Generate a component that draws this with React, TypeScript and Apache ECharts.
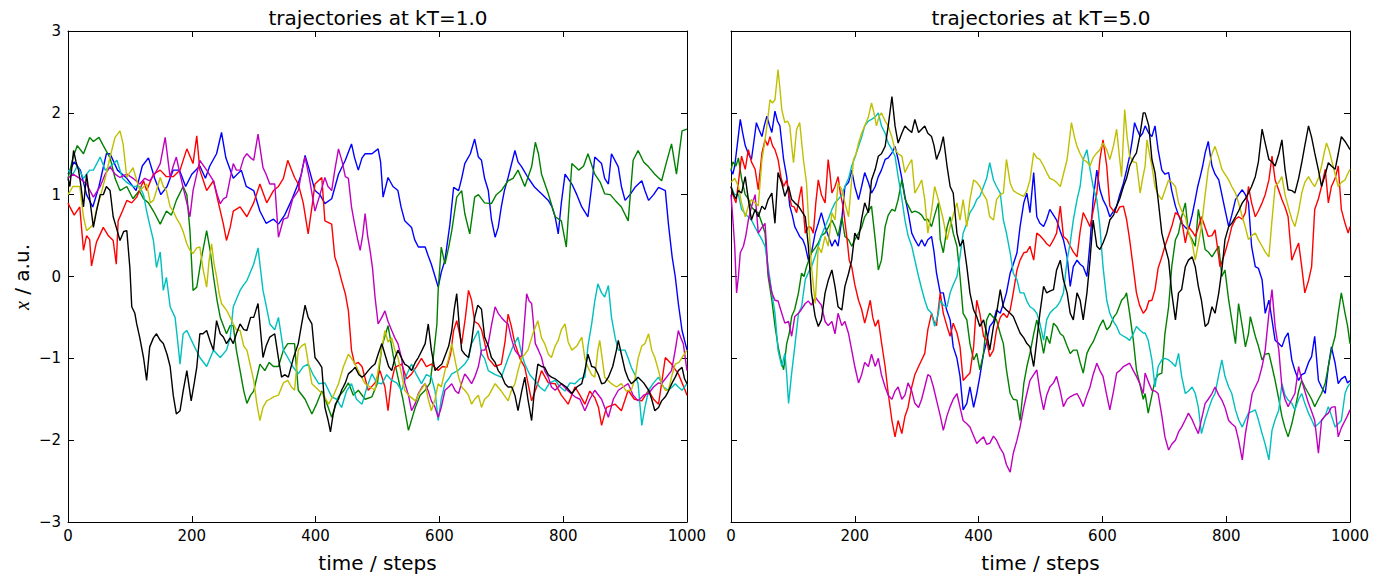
import React, { useEffect, useRef } from "react";
import * as echarts from "echarts";

// Each trajectory: [time step, x] pairs.
const xTicks = [0, 200, 400, 600, 800, 1000];
const yTicks = [-3, -2, -1, 0, 1, 2, 3];
const titles = ["trajectories at kT=1.0", "trajectories at kT=5.0"];
const colors = ["#0000ff", "#008000", "#ff0000", "#00bfbf", "#bf00bf", "#bfbf00", "#000000"];

// ---------- kT = 1.0 ----------
const blueLow = [[0,1.25],[10,1.4],[20,1.3],[30,1.0],[40,0.85],[50,1.1],[62,1.5],[68,1.5],[80,1.3],[95,1.2],[110,1.05],[120,1.35],[130,1.45],[140,1.2],[150,1.0],[160,1.1],[170,1.3],[180,1.3],[190,1.1],[200,1.25],[213,1.35],[222,1.2],[229,1.35],[240,1.5],[248,1.76],[255,1.45],[267,1.2],[280,1.3],[288,1.1],[300,1.05],[310,0.8],[320,0.65],[332,0.7],[340,0.64],[350,0.75],[361,0.93],[370,1.1],[377,1.25],[383,1.48],[390,1.3],[399,1.05],[407,1.0],[415,0.89],[426,0.95],[437,1.25],[448,1.42],[458,1.62],[463,1.45],[469,1.3],[475,1.45],[480,1.5],[491,1.5],[501,1.56],[505,1.4],[509,0.97],[517,1.21],[525,1.1],[533,1.05],[538,0.85],[544,0.68],[555,0.6],[560,0.45],[566,0.36],[577,0.36],[582,0.25],[587,0.15],[593,0.0],[598,-0.13],[603,0.05],[609,0.2],[617,0.64],[623,1.09],[631,1.05],[636,1.2],[641,1.38],[650,1.5],[657,1.68],[663,1.46],[668,1.42],[673,1.2],[679,1.05],[684,0.7],[690,0.48],[695,0.6],[700,0.85],[705,1.05],[711,1.21],[722,1.54],[727,1.4],[733,1.34],[743,1.21],[754,1.09],[765,1.01],[776,0.93],[782,0.85],[787,0.73],[792,0.52],[797,0.9],[803,1.25],[814,1.13],[822,1.0],[830,0.85],[840,0.73],[846,1.1],[851,1.46],[862,1.38],[867,1.2],[873,1.13],[878,1.5],[889,1.34],[894,1.1],[900,0.93],[908,1.0],[916,1.09],[927,1.17],[932,1.05],[938,0.93],[946,1.0],[954,1.09],[965,1.05],[970,0.64],[976,0.24],[981,0.0],[986,-0.33],[992,-0.66],[1000,-0.9]];
const greenLow = [[0,1.2],[8,1.45],[15,1.6],[25,1.5],[35,1.7],[41,1.65],[50,1.7],[57,1.6],[68,1.45],[76,1.2],[84,1.05],[95,1.1],[105,0.95],[115,1.05],[122,0.95],[130,0.9],[138,0.8],[149,0.64],[159,0.8],[167,0.75],[175,0.93],[186,1.1],[192,1.0],[197,0.56],[202,-0.17],[208,-0.13],[215,0.2],[224,0.56],[230,0.3],[235,0.0],[241,-0.3],[246,-0.5],[256,-0.7],[262,-0.6],[267,-0.6],[272,-0.9],[278,-1.15],[284,-1.4],[289,-1.55],[295,-1.45],[300,-1.4],[310,-1.07],[318,-1.15],[325,-1.05],[332,-1.1],[340,-1.1],[348,-0.9],[355,-0.82],[366,-0.82],[372,-1.39],[383,-1.5],[394,-1.68],[402,-1.55],[410,-1.4],[418,-1.55],[426,-1.72],[437,-1.47],[445,-1.4],[453,-1.3],[461,-1.45],[469,-1.39],[480,-1.5],[491,-1.47],[500,-1.3],[507,-0.86],[517,-0.6],[525,-0.95],[533,-1.23],[541,-1.5],[550,-1.88],[561,-1.6],[569,-1.45],[577,-1.39],[585,-1.3],[590,-1.0],[596,-0.58],[598,-0.17],[603,0.36],[609,0.15],[615,0.36],[620,0.56],[628,0.97],[636,1.05],[641,0.77],[649,0.52],[657,0.97],[663,1.0],[673,0.9],[684,0.89],[692,1.0],[700,1.05],[711,1.17],[719,1.2],[727,1.3],[738,1.1],[749,1.34],[755,1.64],[760,1.5],[765,1.25],[776,1.01],[787,0.73],[797,0.68],[805,0.36],[814,1.38],[825,1.3],[833,1.35],[840,1.5],[851,1.25],[860,1.15],[867,1.01],[876,1.0],[884,0.93],[894,0.85],[905,0.68],[913,1.42],[921,1.54],[930,1.4],[938,1.34],[948,1.25],[959,1.17],[967,1.4],[975,1.62],[983,1.25],[992,1.78],[1000,1.8]];
const redLow = [[0,0.9],[3,0.85],[10,0.75],[19,0.85],[25,0.32],[30,0.5],[35,0.45],[38,0.13],[46,0.42],[57,0.6],[65,0.5],[73,0.44],[78,0.15],[81,0.68],[88,0.8],[95,0.93],[103,0.9],[111,0.97],[122,1.17],[127,1.05],[138,1.25],[149,1.3],[159,1.22],[170,1.22],[181,1.3],[192,1.56],[202,1.38],[208,1.72],[213,1.3],[224,1.05],[235,1.17],[243,0.9],[251,0.64],[256,0.44],[262,0.6],[267,0.8],[278,0.85],[289,0.73],[300,0.9],[310,1.13],[321,0.9],[332,1.05],[340,1.1],[348,1.2],[355,1.42],[366,1.21],[372,1.13],[380,0.9],[388,0.52],[395,0.9],[399,1.13],[410,1.21],[415,0.68],[426,0.64],[431,0.24],[437,0.1],[442,-0.05],[448,-0.21],[453,-0.42],[458,-0.9],[463,-1.07],[469,-1.05],[475,-1.1],[485,-1.39],[496,-1.3],[504,-1.15],[512,-1.35],[517,-1.64],[522,-1.3],[528,-1.11],[539,-1.07],[547,-1.25],[555,-1.19],[563,-1.1],[571,-1.0],[579,-1.1],[587,-1.07],[598,-1.15],[605,-1.1],[612,-1.11],[618,-0.95],[623,-0.66],[628,-0.54],[636,-0.82],[642,-0.5],[647,-0.17],[652,-0.29],[657,-0.55],[663,-0.58],[668,-0.65],[679,-1.0],[690,-1.1],[700,-1.07],[706,-0.8],[711,-0.46],[716,-0.6],[722,-0.82],[730,-1.0],[738,-1.11],[743,-1.3],[749,-1.52],[757,-1.35],[765,-1.15],[776,-1.3],[787,-1.31],[797,-1.45],[808,-1.56],[819,-1.35],[827,-1.45],[835,-1.56],[843,-1.4],[851,-1.48],[857,-1.6],[862,-1.82],[870,-1.6],[884,-1.56],[894,-1.64],[905,-1.39],[915,-1.5],[927,-1.52],[938,-1.39],[946,-1.5],[954,-1.56],[960,-1.25],[965,-0.99],[975,-1.07],[986,-1.19],[997,-1.39],[1000,-1.45]];
const cyanLow = [[0,1.3],[8,1.25],[15,1.35],[25,1.2],[35,1.3],[41,1.3],[52,1.46],[60,1.3],[68,1.34],[79,1.42],[88,1.2],[95,1.15],[105,1.1],[116,1.1],[122,1.0],[127,0.8],[133,0.6],[138,0.44],[143,0.11],[149,0.3],[154,-0.17],[159,-0.01],[165,-0.37],[173,-0.5],[178,-0.85],[181,-1.07],[186,-0.7],[192,-0.66],[202,-0.82],[213,-0.99],[224,-1.1],[235,-0.9],[246,-0.99],[256,-0.9],[262,-0.75],[267,-0.37],[278,-0.17],[284,-0.1],[289,-0.05],[300,0.15],[307,0.35],[315,-0.17],[320,-0.35],[326,-0.58],[334,-0.65],[340,-0.5],[348,-0.9],[355,-0.99],[363,-1.1],[372,-1.19],[380,-1.1],[388,-1.07],[396,-1.2],[405,-1.31],[415,-1.3],[426,-1.47],[434,-1.5],[442,-1.6],[450,-1.4],[458,-1.31],[466,-1.5],[475,-1.56],[483,-1.35],[491,-1.19],[499,-1.3],[507,-1.31],[515,-1.2],[523,-1.27],[531,-1.3],[539,-1.39],[547,-1.2],[555,-1.07],[563,-1.2],[571,-1.31],[579,-1.2],[587,-1.23],[593,-1.4],[598,-1.76],[603,-1.5],[609,-1.31],[615,-1.25],[620,-1.19],[630,-1.15],[641,-1.07],[647,-1.0],[652,-0.82],[663,-0.66],[668,-0.95],[673,-1.0],[679,-1.15],[690,-1.2],[700,-1.23],[711,-1.0],[719,-0.85],[727,-0.74],[733,-0.95],[738,-1.07],[746,-1.2],[754,-1.27],[762,-1.35],[770,-1.4],[778,-1.3],[787,-1.27],[795,-1.35],[803,-1.4],[811,-1.3],[819,-1.31],[827,-1.25],[835,-1.23],[840,-0.85],[846,-0.58],[851,-0.3],[856,-0.09],[862,-0.2],[867,-0.25],[873,-0.11],[878,-0.5],[884,-0.75],[889,-0.9],[900,-0.9],[905,-1.0],[910,-1.11],[916,-1.2],[921,-1.31],[927,-1.82],[932,-1.6],[938,-1.39],[946,-1.3],[954,-1.23],[962,-1.35],[970,-1.39],[976,-1.35],[981,-1.31],[986,-1.35],[992,-1.39],[1000,-1.31]];
const magentaLow = [[0,1.2],[8,1.25],[19,1.2],[30,1.13],[41,0.97],[52,1.1],[60,1.25],[68,1.34],[76,1.25],[84,1.21],[95,1.25],[105,1.2],[116,1.13],[124,1.2],[132,1.17],[140,1.25],[149,1.38],[157,1.7],[165,1.21],[170,1.35],[175,1.46],[181,1.25],[186,1.09],[192,0.9],[197,0.73],[202,1.05],[208,1.25],[213,1.42],[224,1.3],[235,1.17],[241,1.0],[246,0.89],[251,0.95],[256,0.97],[262,1.2],[267,1.38],[272,1.3],[278,1.3],[284,1.45],[289,1.5],[295,1.45],[300,1.42],[307,1.74],[315,1.33],[320,1.25],[326,1.13],[334,1.13],[340,0.48],[348,0.7],[355,0.72],[363,0.95],[372,1.05],[378,1.3],[383,1.46],[390,1.2],[399,0.8],[407,1.0],[415,1.21],[420,1.1],[426,1.05],[431,1.3],[437,1.56],[443,1.4],[448,1.22],[453,1.2],[458,0.85],[463,0.64],[468,0.45],[472,0.32],[476,0.5],[480,0.77],[484,0.5],[488,0.32],[492,0.1],[496,-0.25],[501,-0.58],[507,-0.5],[512,-0.42],[517,-0.55],[523,-0.66],[528,-0.75],[533,-0.82],[539,-1.0],[544,-1.3],[550,-1.45],[555,-1.64],[561,-1.55],[566,-1.43],[572,-1.35],[577,-1.31],[582,-1.4],[587,-1.52],[593,-1.6],[598,-1.72],[603,-1.6],[609,-1.39],[615,-1.35],[620,-1.31],[626,-1.4],[631,-1.43],[636,-1.3],[641,-1.19],[647,-1.25],[652,-1.31],[657,-1.23],[663,-1.1],[668,-0.9],[673,-0.9],[679,-0.82],[684,-0.6],[690,-0.37],[695,-0.45],[700,-0.5],[706,-0.55],[711,-0.58],[716,-0.75],[722,-0.9],[727,-0.95],[733,-0.99],[737,-0.6],[741,-0.21],[745,-0.3],[749,-0.33],[755,-0.82],[760,-0.9],[765,-0.99],[770,-1.15],[776,-1.23],[781,-1.35],[787,-1.39],[792,-1.35],[797,-1.31],[808,-1.4],[819,-1.47],[827,-1.5],[835,-1.64],[843,-1.5],[851,-1.39],[862,-1.5],[873,-1.72],[881,-1.5],[889,-1.39],[897,-1.35],[905,-1.31],[913,-1.45],[921,-1.52],[930,-1.45],[938,-1.43],[946,-1.35],[954,-1.3],[959,-1.31],[965,-1.25],[975,-1.15],[981,-0.9],[986,-0.66],[990,-0.75],[994,-0.82],[1000,-1.15]];
const yellowLow = [[0,1.0],[8,1.1],[19,1.1],[25,0.73],[30,0.56],[36,0.6],[41,0.64],[47,0.85],[52,0.97],[60,1.2],[68,1.46],[76,1.7],[84,1.78],[89,1.62],[95,1.21],[105,1.33],[116,1.05],[127,1.13],[133,0.9],[138,0.93],[143,1.05],[149,1.21],[154,1.1],[159,1.05],[165,0.85],[170,0.8],[176,0.7],[181,0.64],[186,0.55],[192,0.4],[197,0.32],[202,0.28],[208,0.35],[213,0.36],[218,0.1],[224,-0.13],[228,0.2],[232,0.4],[236,0.15],[240,0.0],[244,-0.2],[248,-0.33],[256,-0.41],[262,-0.5],[267,-0.58],[272,-0.65],[278,-0.66],[284,-0.85],[289,-0.9],[295,-1.1],[300,-1.27],[305,-1.55],[310,-1.76],[315,-1.6],[321,-1.52],[326,-1.5],[332,-1.47],[340,-1.45],[348,-1.3],[355,-1.27],[361,-1.35],[366,-1.39],[372,-0.9],[377,-0.85],[383,-0.82],[388,-1.05],[394,-1.31],[405,-1.39],[413,-1.45],[421,-1.56],[429,-1.45],[437,-1.31],[445,-1.1],[453,-0.95],[458,-1.0],[464,-1.07],[472,-1.2],[480,-1.31],[488,-1.35],[496,-1.39],[504,-1.0],[512,-0.66],[517,-0.8],[523,-0.75],[528,-0.9],[533,-0.99],[539,-1.2],[544,-1.39],[550,-1.45],[561,-1.52],[569,-1.4],[577,-1.31],[582,-1.5],[587,-1.64],[593,-1.5],[598,-1.31],[603,-1.35],[609,-1.15],[615,-1.0],[620,-0.82],[626,-1.05],[631,-1.23],[636,-1.35],[641,-1.39],[647,-1.45],[652,-1.56],[657,-1.5],[663,-1.45],[668,-1.6],[673,-1.5],[680,-1.45],[690,-1.31],[700,-1.4],[711,-1.52],[716,-1.4],[722,-1.31],[727,-1.15],[733,-0.99],[738,-0.95],[743,-0.9],[751,-0.7],[759,-0.54],[765,-0.75],[770,-0.82],[776,-0.95],[781,-0.99],[787,-0.85],[792,-0.78],[797,-0.65],[803,-0.58],[808,-0.8],[814,-0.9],[822,-0.85],[830,-0.74],[835,-1.0],[840,-1.11],[846,-1.2],[851,-1.23],[856,-0.9],[859,-0.78],[863,-1.0],[867,-1.23],[878,-1.31],[886,-1.35],[894,-1.31],[902,-1.4],[910,-1.39],[916,-1.25],[921,-1.0],[927,-0.85],[932,-0.82],[938,-0.7],[943,-0.9],[948,-0.99],[954,-1.15],[959,-1.31],[965,-1.39],[970,-1.39],[976,-1.2],[981,-1.07],[987,-1.05],[992,-0.99],[1000,-0.9]];
const blackLow = [[0,1.2],[3,1.1],[9,1.54],[13,1.4],[17,1.3],[21,1.1],[25,0.85],[30,1.25],[36,0.9],[41,0.6],[46,0.8],[52,1.0],[57,1.0],[62,1.1],[68,1.05],[73,0.73],[78,0.6],[84,0.44],[90,0.55],[95,0.56],[100,0.1],[103,-0.37],[108,-0.45],[111,-0.58],[116,-0.75],[122,-0.99],[127,-1.27],[132,-0.86],[138,-0.75],[143,-0.7],[149,-0.78],[154,-0.82],[160,-0.95],[165,-1.1],[170,-1.45],[175,-1.68],[181,-1.64],[186,-1.4],[192,-1.15],[199,-1.52],[204,-1.3],[208,-1.11],[213,-0.7],[218,-0.7],[224,-0.66],[230,-0.8],[235,-0.9],[240,-0.54],[246,-0.7],[251,-0.74],[256,-0.82],[262,-0.75],[267,-0.82],[272,-0.7],[278,-0.58],[284,-0.65],[289,-0.66],[295,-0.5],[300,-0.5],[307,-0.33],[315,-0.99],[320,-0.85],[326,-0.74],[334,-0.7],[340,-1.0],[345,-1.23],[350,-1.2],[356,-1.23],[364,-1.0],[372,-0.82],[377,-0.6],[383,-0.35],[388,-0.5],[394,-0.58],[399,-0.99],[405,-1.05],[410,-1.11],[415,-1.6],[420,-1.75],[424,-1.9],[428,-1.7],[432,-1.56],[437,-1.5],[442,-1.39],[448,-1.3],[453,-1.19],[459,-1.15],[464,-1.11],[470,-1.2],[475,-1.23],[480,-1.2],[485,-1.15],[491,-1.1],[496,-1.07],[501,-0.95],[507,-0.82],[512,-0.95],[518,-1.1],[523,-1.15],[528,-1.0],[533,-0.9],[539,-1.0],[544,-1.07],[550,-1.1],[555,-1.15],[561,-1.05],[566,-0.99],[572,-0.9],[577,-0.82],[582,-0.58],[587,-0.9],[593,-1.15],[598,-1.11],[604,-1.07],[610,-0.95],[615,-0.85],[620,-0.66],[624,-0.4],[628,-0.21],[632,-0.6],[636,-0.9],[641,-0.95],[647,-0.99],[652,-0.8],[657,-0.5],[662,-0.35],[668,-0.4],[673,-0.74],[679,-0.85],[684,-0.99],[690,-1.05],[695,-1.15],[700,-1.2],[706,-1.31],[711,-1.35],[717,-1.35],[722,-1.45],[727,-1.64],[733,-1.4],[738,-1.23],[743,-1.5],[749,-1.76],[754,-1.35],[759,-1.07],[765,-1.1],[770,-1.11],[776,-1.2],[781,-1.23],[787,-1.25],[797,-1.31],[805,-1.35],[814,-1.43],[822,-1.35],[830,-1.31],[835,-1.15],[840,-0.95],[846,-1.1],[851,-1.11],[857,-1.2],[862,-1.31],[867,-1.3],[873,-1.23],[880,-1.1],[886,-0.9],[889,-0.78],[894,-0.95],[900,-1.15],[905,-1.25],[910,-1.31],[916,-1.27],[921,-1.23],[930,-1.3],[938,-1.39],[943,-1.5],[948,-1.64],[954,-1.6],[959,-1.52],[965,-1.47],[970,-1.4],[976,-1.3],[981,-1.23],[986,-1.15],[992,-1.11],[996,-1.25],[1000,-1.31]];

// ---------- kT = 5.0 ----------
const blueHigh = [[0,1.3],[3,1.25],[6,1.35],[10,1.6],[15,1.92],[19,1.75],[23,1.6],[28,1.5],[33,1.43],[37,1.65],[41,1.88],[45,1.8],[50,1.71],[54,1.85],[58,1.96],[62,1.85],[66,1.76],[71,2.02],[75,1.9],[79,1.84],[85,1.43],[90,1.22],[95,0.86],[99,0.75],[103,0.61],[107,0.55],[111,0.49],[116,0.45],[120,0.37],[125,0.2],[130,0.29],[136,0.53],[141,0.65],[146,0.78],[152,0.61],[157,0.5],[163,0.37],[168,0.45],[173,0.37],[179,0.7],[184,1.1],[190,1.15],[195,1.3],[200,1.1],[206,0.94],[211,1.1],[216,1.27],[222,1.15],[227,1.02],[233,1.1],[238,1.22],[243,1.3],[249,1.43],[254,1.45],[260,1.51],[265,1.59],[270,1.43],[276,1.2],[281,0.98],[287,0.75],[292,0.53],[297,0.45],[303,0.37],[308,0.45],[313,0.37],[318,0.45],[324,0.49],[328,0.3],[332,0.04],[338,-0.2],[343,-0.2],[348,-0.4],[354,-0.53],[359,-0.86],[365,-1.0],[370,-1.22],[375,-1.63],[381,-1.55],[386,-1.35],[392,-1.6],[397,-1.43],[402,-1.22],[408,-0.94],[413,-0.8],[418,-0.61],[424,-0.55],[429,-0.41],[435,-0.45],[440,-0.33],[445,-0.2],[451,0.04],[456,0.15],[462,0.29],[467,0.61],[473,0.9],[478,1.02],[483,0.78],[489,1.27],[494,0.73],[499,0.65],[505,0.61],[510,0.7],[515,0.82],[521,0.75],[526,0.69],[532,0.55],[537,0.45],[543,0.24],[548,-0.12],[553,0.12],[559,0.2],[564,0.15],[569,0.12],[575,0.0],[580,0.41],[585,0.94],[591,1.3],[596,1.06],[601,0.94],[607,0.85],[612,0.73],[618,0.8],[623,0.86],[628,1.0],[634,1.14],[639,1.3],[644,1.47],[648,1.65],[652,1.88],[656,1.8],[661,1.71],[665,1.75],[669,1.84],[675,1.75],[680,1.71],[685,1.84],[690,1.55],[696,1.3],[701,1.25],[707,1.27],[712,1.05],[718,0.86],[723,0.75],[728,0.65],[734,0.6],[739,0.57],[745,0.75],[750,0.94],[754,1.1],[758,1.22],[762,1.35],[766,1.51],[771,1.65],[777,1.35],[782,1.25],[788,1.18],[793,1.0],[798,0.82],[804,0.61],[809,0.75],[815,0.94],[820,1.0],[826,1.06],[831,1.0],[836,0.9],[841,0.37],[847,0.12],[852,0.1],[858,-0.04],[863,-0.45],[869,-0.29],[874,-0.53],[879,-0.78],[885,-0.82],[890,-0.86],[895,-0.75],[900,-0.69],[906,-1.02],[911,-1.15],[917,-1.27],[922,-1.2],[927,-1.18],[933,-1.05],[938,-0.98],[943,-0.73],[949,-1.27],[954,-1.35],[960,-1.43],[965,-1.1],[970,-0.86],[976,-1.06],[981,-1.31],[986,-1.25],[992,-1.22],[996,-1.3],[1000,-1.27]];
const greenHigh = [[0,1.3],[3,1.4],[8,1.35],[12,1.45],[17,1.2],[23,1.0],[28,0.95],[33,0.85],[39,0.8],[44,0.78],[50,0.65],[55,0.53],[60,0.0],[66,-0.29],[71,-0.6],[76,-0.85],[80,-1.0],[85,-1.14],[90,-0.82],[94,-0.7],[98,-0.49],[103,-0.4],[109,-0.2],[114,0.04],[118,0.0],[122,0.12],[130,0.29],[136,0.35],[141,0.41],[146,0.5],[152,0.53],[157,0.6],[163,0.69],[168,0.61],[173,0.49],[179,0.73],[184,0.49],[190,0.45],[195,0.37],[200,0.45],[206,0.53],[211,0.6],[216,0.73],[222,0.8],[227,0.86],[233,0.45],[238,0.08],[243,0.2],[249,0.61],[254,0.75],[260,0.82],[265,0.8],[270,0.94],[276,1.18],[281,0.95],[284,0.9],[292,0.78],[297,0.8],[303,0.78],[308,0.75],[313,0.69],[318,0.7],[324,0.61],[329,0.75],[335,0.9],[338,0.45],[343,0.29],[349,0.6],[354,0.73],[359,0.53],[365,0.37],[370,0.0],[375,-0.45],[381,-0.53],[386,-0.82],[392,-1.02],[397,-0.94],[402,-1.14],[408,-0.94],[413,-0.53],[418,-0.45],[424,-0.5],[429,-0.53],[435,-0.7],[440,-0.82],[445,-1.14],[451,-1.43],[456,-1.5],[462,-1.51],[467,-1.76],[473,-1.31],[478,-1.1],[483,-0.94],[489,-0.7],[494,-0.53],[499,-0.69],[505,-0.94],[510,-0.73],[515,-0.82],[521,-0.57],[526,-0.61],[532,-0.7],[537,-0.73],[543,-0.85],[548,-0.94],[553,-0.9],[559,-0.9],[564,-1.05],[569,-1.18],[575,-0.94],[580,-0.86],[585,-0.8],[591,-0.69],[596,-0.6],[601,-0.53],[607,-0.65],[612,-0.61],[618,-0.5],[623,-0.45],[628,-0.35],[631,-0.29],[636,-0.25],[639,-0.2],[644,-0.45],[650,-0.78],[655,-1.14],[660,-1.3],[666,-1.5],[669,-1.43],[674,-1.67],[680,-1.45],[685,-1.27],[690,-1.2],[696,-1.18],[701,-0.7],[707,-0.37],[712,0.12],[718,0.45],[723,0.53],[728,0.73],[734,0.9],[739,0.53],[745,0.45],[750,0.37],[755,0.82],[760,0.61],[766,0.33],[771,0.3],[777,0.24],[782,0.3],[788,0.37],[793,0.0],[798,0.08],[804,-0.29],[809,-0.53],[815,-0.82],[820,-0.33],[826,-0.61],[831,-0.86],[836,-0.7],[839,-0.49],[847,-0.73],[852,-0.85],[858,-1.02],[863,-0.95],[869,-0.94],[874,-1.1],[879,-1.27],[885,-1.5],[890,-1.71],[895,-1.85],[900,-1.96],[906,-1.8],[911,-1.63],[917,-1.4],[922,-1.27],[927,-1.35],[933,-1.43],[938,-1.5],[943,-1.59],[949,-1.5],[954,-1.43],[960,-1.3],[965,-1.1],[970,-0.9],[976,-0.73],[981,-0.45],[986,-0.2],[992,-0.45],[996,-0.6],[1000,-0.82]];
const redHigh = [[0,1.1],[3,1.0],[8,0.9],[12,1.15],[17,1.47],[23,1.31],[28,1.55],[33,1.4],[39,1.31],[44,1.06],[50,1.51],[55,1.67],[59,1.6],[63,1.71],[67,1.6],[71,1.55],[76,1.43],[81,1.2],[85,1.1],[90,1.18],[94,0.98],[98,0.86],[102,0.85],[106,0.78],[110,0.95],[114,1.1],[117,0.8],[120,0.53],[125,0.61],[129,0.6],[133,0.53],[137,0.9],[141,1.18],[146,1.0],[152,0.9],[157,1.43],[160,1.25],[163,1.02],[168,1.1],[173,1.22],[177,1.0],[181,0.86],[187,0.49],[191,0.2],[195,0.12],[200,-0.1],[206,-0.29],[211,-0.4],[216,-0.57],[220,-0.45],[225,-0.29],[229,-0.5],[233,-0.61],[238,-0.53],[243,-0.8],[249,-1.1],[254,-1.43],[260,-1.76],[265,-1.96],[270,-1.76],[276,-1.92],[281,-1.71],[286,-1.6],[292,-1.35],[297,-1.2],[303,-1.1],[308,-1.02],[313,-0.94],[318,-0.65],[324,-0.45],[328,-0.55],[332,-0.6],[338,-0.2],[343,-0.45],[349,-0.61],[354,-0.73],[359,-0.57],[365,-0.69],[370,-0.86],[375,-1.27],[381,-1.22],[386,-1.18],[392,-0.86],[397,-0.29],[402,-0.45],[408,-0.73],[413,-0.78],[418,-0.98],[424,-0.9],[429,-0.65],[435,-0.5],[440,-0.45],[446,-0.5],[451,-0.41],[456,-0.2],[462,0.08],[467,0.2],[473,0.29],[478,0.3],[483,0.37],[489,0.2],[494,0.53],[499,0.5],[505,0.45],[510,0.4],[515,0.37],[521,0.45],[526,0.53],[532,0.86],[537,0.49],[543,0.45],[548,0.37],[553,0.3],[559,0.24],[564,0.55],[569,0.78],[575,0.69],[580,0.61],[585,0.8],[591,1.02],[596,1.43],[601,1.67],[607,1.35],[612,0.86],[618,0.8],[623,0.78],[628,0.85],[634,0.86],[639,0.7],[644,0.45],[650,0.1],[655,-0.2],[660,-0.35],[666,-0.45],[671,-0.4],[675,-0.3],[680,-0.29],[685,-0.16],[690,0.1],[696,0.24],[701,0.37],[707,0.5],[712,0.61],[718,0.78],[723,0.75],[728,0.69],[734,0.41],[739,0.61],[745,0.55],[750,0.49],[755,0.6],[760,0.73],[766,0.6],[771,0.49],[777,0.5],[782,0.57],[786,0.35],[790,0.12],[794,0.2],[798,0.29],[804,0.45],[809,0.61],[815,0.7],[820,0.73],[826,0.7],[831,0.78],[836,1.1],[841,0.9],[847,0.73],[852,0.8],[858,0.9],[863,1.0],[869,1.18],[874,1.47],[879,1.18],[885,1.05],[890,0.94],[895,0.85],[900,0.73],[906,0.2],[911,0.3],[917,0.41],[922,0.12],[927,-0.2],[933,-0.05],[938,0.12],[943,0.82],[949,0.95],[954,1.1],[960,1.31],[965,0.9],[970,1.1],[976,1.2],[981,1.35],[986,0.82],[992,0.65],[997,0.53],[1000,0.61]];
const cyanHigh = [[0,1.1],[6,1.0],[12,1.0],[17,0.82],[25,0.75],[33,0.69],[39,0.6],[44,0.53],[50,0.45],[55,0.37],[60,0.12],[66,-0.2],[71,-0.45],[76,-0.9],[82,-1.1],[87,-0.94],[90,-1.2],[93,-1.55],[98,-1.18],[103,-0.86],[109,-0.45],[114,-0.37],[120,-0.04],[125,0.05],[130,0.12],[136,0.25],[141,0.37],[146,0.5],[152,0.61],[157,0.7],[163,0.82],[168,0.9],[173,0.94],[179,1.0],[184,1.1],[190,1.2],[195,1.35],[200,1.45],[206,1.59],[211,1.7],[216,1.84],[222,1.9],[227,1.92],[233,1.95],[238,2.0],[243,1.84],[249,1.75],[254,1.63],[260,1.55],[265,1.47],[270,1.22],[276,0.95],[281,0.69],[286,0.5],[292,0.37],[297,0.2],[303,0.0],[308,-0.15],[313,-0.29],[318,-0.4],[324,-0.45],[329,-0.61],[335,-0.45],[338,-0.29],[343,-0.35],[349,-0.37],[354,-0.2],[359,-0.1],[365,0.0],[370,0.25],[375,0.53],[381,0.65],[386,0.78],[392,0.85],[397,0.94],[402,0.98],[408,1.1],[413,1.2],[418,1.39],[424,1.18],[429,1.1],[435,1.02],[440,0.69],[445,0.53],[451,0.29],[456,0.04],[462,-0.04],[467,-0.2],[473,-0.2],[478,-0.3],[483,-0.37],[489,-0.4],[494,-0.45],[499,-0.57],[505,-0.78],[510,-0.53],[515,-0.45],[521,-0.4],[526,-0.37],[532,-0.3],[537,-0.2],[543,0.2],[548,0.41],[553,0.69],[559,0.94],[564,1.1],[569,1.43],[575,1.55],[580,1.31],[585,1.1],[591,0.94],[596,0.61],[601,0.12],[607,-0.29],[612,-0.45],[618,-0.55],[623,-0.61],[628,-0.7],[634,-0.73],[639,-0.75],[644,-0.78],[650,-0.7],[655,-0.61],[660,-0.65],[666,-0.69],[669,-0.69],[674,-0.78],[680,-1.02],[685,-1.35],[690,-1.1],[696,-1.02],[701,-1.0],[707,-1.02],[712,-1.05],[718,-1.1],[723,-0.94],[728,-1.22],[734,-1.43],[739,-1.4],[745,-1.35],[750,-1.43],[755,-1.6],[760,-1.92],[766,-1.75],[771,-1.63],[777,-1.5],[782,-1.43],[788,-1.2],[793,-1.02],[798,-1.22],[804,-1.35],[809,-1.43],[815,-1.63],[820,-1.75],[826,-1.84],[831,-1.75],[836,-1.67],[841,-1.65],[847,-1.63],[852,-1.75],[858,-1.92],[863,-2.05],[869,-2.24],[874,-1.88],[879,-1.75],[885,-1.63],[890,-1.31],[895,-1.45],[900,-1.51],[906,-1.55],[911,-1.63],[917,-1.5],[922,-1.43],[927,-1.55],[933,-1.67],[938,-1.75],[943,-1.84],[949,-1.8],[954,-1.76],[960,-1.7],[965,-1.59],[970,-1.7],[976,-1.84],[981,-1.8],[986,-1.76],[992,-1.43],[996,-1.35],[1000,-1.31]];
const magentaHigh = [[0,1.0],[3,0.7],[6,0.37],[9,-0.2],[12,0.0],[15,0.29],[20,0.37],[24,0.5],[28,0.69],[33,0.85],[39,1.0],[44,0.53],[50,0.6],[55,0.65],[60,0.04],[66,-0.2],[71,-0.29],[76,-0.3],[82,-0.45],[87,-0.57],[93,-0.55],[98,-0.73],[103,-0.49],[109,-0.45],[114,-0.4],[120,-0.33],[125,-0.3],[130,-0.35],[136,-0.25],[141,-0.3],[146,-0.35],[152,-0.55],[157,-0.6],[163,-0.55],[168,-0.7],[173,-0.45],[179,-0.6],[184,-0.55],[190,-0.7],[195,-0.9],[200,-1.1],[206,-1.3],[211,-1.2],[216,-1.05],[222,-1.1],[227,-0.95],[233,-1.1],[238,-1.0],[243,-1.2],[249,-1.35],[254,-1.45],[260,-1.5],[265,-1.4],[270,-1.35],[276,-1.5],[281,-1.45],[286,-1.3],[292,-1.4],[297,-1.55],[303,-1.6],[308,-1.5],[313,-1.35],[318,-1.2],[322,-1.22],[327,-1.35],[332,-1.51],[338,-1.7],[343,-1.88],[349,-1.7],[354,-1.59],[359,-1.5],[365,-1.43],[370,-1.6],[375,-1.76],[381,-1.8],[386,-1.84],[392,-1.95],[397,-2.04],[402,-2.0],[408,-1.96],[413,-2.05],[418,-2.04],[424,-1.95],[429,-2.0],[435,-2.1],[440,-2.16],[445,-2.3],[451,-2.39],[456,-2.16],[462,-2.0],[467,-1.84],[473,-1.6],[478,-1.43],[483,-1.27],[489,-1.2],[494,-1.14],[499,-1.4],[505,-1.63],[510,-1.45],[515,-1.35],[521,-1.3],[526,-1.22],[532,-1.4],[537,-1.59],[543,-1.5],[548,-1.47],[553,-1.45],[559,-1.43],[564,-1.5],[569,-1.59],[575,-1.45],[580,-1.35],[585,-1.2],[591,-1.06],[596,-1.15],[601,-1.22],[607,-1.45],[612,-1.63],[618,-1.4],[623,-1.18],[628,-1.15],[634,-1.1],[639,-1.08],[644,-1.06],[650,-1.15],[655,-1.22],[660,-1.3],[666,-1.43],[669,-1.18],[675,-1.3],[680,-1.39],[685,-1.4],[690,-1.43],[696,-1.7],[701,-1.96],[707,-2.12],[712,-2.05],[718,-2.0],[723,-1.9],[728,-1.84],[734,-1.75],[739,-1.67],[745,-1.75],[750,-1.84],[755,-1.92],[760,-1.75],[766,-1.55],[771,-1.5],[777,-1.43],[782,-1.35],[788,-1.45],[793,-1.51],[798,-1.6],[804,-1.76],[809,-1.8],[815,-1.84],[820,-2.0],[826,-2.24],[831,-1.92],[836,-1.7],[842,-1.43],[847,-1.35],[852,-1.27],[858,-1.1],[863,-0.9],[869,-0.45],[874,-0.16],[879,-0.61],[885,-0.9],[890,-1.35],[895,-1.5],[900,-1.59],[906,-1.5],[911,-1.43],[917,-1.1],[922,-1.27],[927,-1.4],[933,-1.55],[938,-1.65],[943,-1.76],[949,-2.16],[954,-1.76],[960,-1.7],[965,-1.67],[970,-1.6],[976,-1.59],[981,-1.96],[986,-1.85],[992,-1.76],[996,-1.7],[1000,-1.63]];
const yellowHigh = [[0,1.15],[6,1.2],[12,1.1],[17,0.9],[23,0.73],[28,0.86],[33,0.94],[39,0.9],[44,0.86],[50,1.43],[55,1.67],[59,1.9],[63,2.16],[67,2.12],[71,2.16],[76,2.53],[79,2.3],[82,2.04],[87,1.88],[91,1.9],[95,1.84],[98,1.6],[101,1.39],[106,1.8],[111,1.88],[117,1.43],[122,1.14],[126,0.6],[130,0.12],[136,-0.33],[141,0.37],[146,0.29],[152,0.49],[157,0.37],[163,0.78],[168,0.69],[173,1.14],[179,1.06],[184,0.9],[190,0.73],[194,1.1],[198,1.43],[202,1.5],[206,1.63],[211,1.75],[216,1.84],[222,1.95],[227,2.12],[231,2.0],[235,1.84],[239,1.95],[243,2.0],[249,1.9],[254,1.84],[260,1.7],[265,1.55],[270,1.5],[276,1.47],[281,1.27],[286,1.35],[292,1.43],[297,1.02],[303,1.1],[308,1.18],[313,0.94],[318,0.53],[324,0.8],[329,1.1],[335,0.94],[338,0.85],[343,0.69],[349,0.45],[354,0.61],[359,0.75],[365,0.9],[370,0.69],[375,0.94],[381,0.61],[386,0.94],[392,1.18],[397,1.15],[402,1.1],[408,1.0],[413,0.94],[418,0.73],[424,0.69],[429,0.94],[435,1.0],[440,1.02],[445,1.43],[451,1.14],[456,1.05],[462,1.02],[467,1.0],[473,0.98],[478,1.05],[483,1.18],[489,1.51],[494,1.45],[499,1.43],[505,1.35],[510,1.27],[515,1.2],[521,1.18],[526,1.15],[532,1.1],[537,1.25],[543,1.43],[550,1.88],[555,1.7],[559,1.59],[564,1.5],[569,1.43],[575,1.4],[580,1.35],[585,1.45],[591,1.51],[596,1.55],[601,1.63],[607,1.55],[612,1.43],[618,1.6],[623,1.8],[627,1.5],[631,1.22],[636,2.04],[640,1.7],[644,1.47],[650,1.4],[655,1.39],[661,1.02],[665,1.2],[669,1.35],[672,1.67],[676,1.5],[680,1.35],[685,1.1],[690,1.0],[696,0.94],[701,1.05],[707,1.18],[712,1.15],[718,1.1],[723,0.9],[728,0.8],[734,0.73],[739,0.55],[745,0.41],[750,0.2],[755,0.4],[760,0.61],[766,1.0],[771,1.31],[777,1.5],[782,1.59],[788,1.45],[793,1.31],[798,1.25],[804,1.18],[809,1.1],[815,1.02],[820,0.9],[826,0.73],[831,0.6],[836,0.45],[841,0.5],[847,0.53],[852,0.45],[858,0.37],[863,0.3],[869,0.24],[874,0.69],[879,1.1],[885,1.15],[890,1.22],[895,1.0],[900,0.86],[906,0.7],[911,0.61],[917,0.8],[922,1.02],[927,1.15],[933,1.22],[938,1.15],[943,1.1],[949,1.2],[954,1.35],[958,1.5],[962,1.63],[966,1.55],[970,1.43],[976,1.25],[981,1.1],[986,1.15],[992,1.18],[996,1.25],[1000,1.31]];
const blackHigh = [[0,1.1],[4,1.0],[8,0.95],[12,1.05],[17,1.02],[23,1.22],[28,0.94],[33,0.69],[39,0.82],[44,0.73],[50,0.86],[55,0.82],[60,0.94],[66,1.02],[71,0.65],[76,1.27],[82,1.14],[87,0.98],[93,1.1],[98,0.94],[103,0.9],[109,0.86],[114,0.8],[120,0.73],[125,0.37],[130,-0.2],[136,-0.49],[141,-0.61],[146,-0.53],[152,-0.2],[157,-0.05],[163,0.08],[168,-0.12],[173,-0.37],[179,-0.41],[184,-0.12],[190,0.04],[195,0.2],[200,0.53],[206,0.45],[211,0.7],[216,0.9],[222,0.78],[227,1.18],[233,1.31],[238,1.47],[243,1.5],[249,1.59],[254,1.84],[260,2.2],[265,1.84],[270,1.63],[276,1.75],[281,1.84],[286,1.8],[292,1.76],[297,1.92],[303,1.76],[308,1.8],[313,1.84],[318,1.75],[324,1.71],[328,1.6],[332,1.43],[338,1.55],[343,1.71],[349,1.35],[354,1.1],[359,1.02],[365,0.53],[370,0.37],[375,0.45],[381,0.12],[386,-0.2],[392,-0.41],[397,-0.49],[402,-0.61],[408,-0.53],[413,-0.69],[418,-0.9],[424,-0.61],[429,-0.45],[435,-0.16],[440,-0.37],[445,-0.41],[451,-0.45],[456,-0.49],[462,-0.6],[467,-0.69],[473,-0.75],[478,-0.82],[483,-0.86],[489,-1.1],[494,-0.78],[499,-0.45],[505,-0.12],[510,-0.2],[515,-0.18],[521,-0.16],[526,0.08],[532,0.2],[537,-0.04],[543,-0.2],[548,-0.45],[553,-0.53],[559,-0.2],[564,-0.29],[569,-0.53],[575,-0.2],[580,0.2],[585,0.69],[591,0.37],[596,0.33],[601,0.41],[607,0.53],[612,0.69],[618,0.75],[623,0.86],[628,0.95],[634,1.1],[639,1.2],[644,1.35],[650,1.45],[655,1.51],[660,1.7],[666,2.0],[669,2.0],[675,1.84],[680,1.43],[685,1.27],[690,0.94],[696,0.53],[701,0.37],[707,0.2],[712,-0.2],[718,-0.53],[723,-0.2],[728,-0.16],[734,0.12],[739,0.2],[745,0.24],[750,0.12],[755,-0.12],[760,-0.29],[766,-0.61],[771,-0.57],[777,-0.37],[782,-0.45],[788,-0.2],[793,0.08],[798,0.45],[804,0.61],[809,0.65],[815,0.73],[820,0.8],[826,0.9],[831,0.95],[836,1.02],[841,1.1],[847,1.22],[852,1.4],[858,1.8],[863,1.63],[869,1.43],[874,1.4],[879,1.35],[885,1.5],[890,1.67],[895,1.31],[900,1.06],[906,1.05],[911,1.02],[917,1.2],[922,1.39],[927,1.6],[933,1.84],[938,1.7],[943,1.51],[949,1.3],[954,1.1],[960,1.25],[965,1.39],[970,1.35],[976,1.31],[981,1.5],[986,1.71],[992,1.65],[997,1.59],[1000,1.55]];

const panels = [
  [blueLow, greenLow, redLow, cyanLow, magentaLow, yellowLow, blackLow],
  [blueHigh, greenHigh, redHigh, cyanHigh, magentaHigh, yellowHigh, blackHigh],
];

const FONT = "DejaVu Sans";
const fmtY = (v: number) => (v < 0 ? "\u2212" + Math.abs(v) : String(v));
const fmtX = (v: number) => String(v);

export default function App() {
  const ref = useRef<HTMLDivElement>(null);
  useEffect(() => {
    if (!ref.current) return;
    const chart = echarts.init(ref.current, null, { renderer: "svg" });
    const grids = [
      { left: 68, top: 31, width: 619, height: 491 },
      { left: 731, top: 31, width: 619, height: 491 },
    ];
    const line = { show: true, onZero: false, lineStyle: { color: "#000", width: 1 } };
    const tick = { show: true, inside: true, length: 6, lineStyle: { color: "#000", width: 1 } };
    const xAxes: any[] = [];
    const yAxes: any[] = [];
    [0, 1].forEach((g) => {
      xAxes.push({
        type: "value", gridIndex: g, position: "bottom", min: xTicks[0], max: xTicks[xTicks.length - 1], interval: 200,
        axisLine: line, axisTick: tick, splitLine: { show: false },
        axisLabel: { color: "#000", fontSize: 15, fontFamily: FONT, margin: 6, formatter: fmtX },
        name: "time / steps", nameLocation: "middle", nameGap: 31,
        nameTextStyle: { color: "#000", fontSize: 20, fontFamily: FONT },
      });
    });
    [0, 1].forEach((g) => {
      xAxes.push({
        type: "value", gridIndex: g, position: "top", min: 0, max: 1000, interval: 200,
        axisLine: line, axisTick: tick, splitLine: { show: false }, axisLabel: { show: false },
      });
    });
    [0, 1].forEach((g) => {
      yAxes.push({
        type: "value", gridIndex: g, position: "left", min: yTicks[0], max: yTicks[yTicks.length - 1], interval: 1,
        axisLine: line, axisTick: tick, splitLine: { show: false },
        axisLabel: { show: g === 0, color: "#000", fontSize: 15, fontFamily: FONT, margin: 7, formatter: fmtY },
      });
    });
    [0, 1].forEach((g) => {
      yAxes.push({
        type: "value", gridIndex: g, position: "right", min: -3, max: 3, interval: 1,
        axisLine: line, axisTick: tick, splitLine: { show: false }, axisLabel: { show: false },
      });
    });
    const series: any[] = [];
    panels.forEach((arrs, p) => {
      arrs.forEach((pts, i) => {
        series.push({
          type: "line", xAxisIndex: p, yAxisIndex: p, showSymbol: false, symbol: "none",
          data: pts,
          lineStyle: { color: colors[i], width: 1.4 }, itemStyle: { color: colors[i] },
          z: 2 + i,
        });
      });
    });
    chart.setOption({
      animation: false,
      backgroundColor: "#fff",
      grid: grids,
      xAxis: xAxes,
      yAxis: yAxes,
      series,
      graphic: [
        { type: "text", x: 378, y: 18, style: { text: titles[0], fontSize: 20, fontFamily: FONT, fill: "#000", align: "center", verticalAlign: "middle" } },
        { type: "text", x: 1041, y: 18, style: { text: titles[1], fontSize: 20, fontFamily: FONT, fill: "#000", align: "center", verticalAlign: "middle" } },
        {
          type: "text", x: 22, y: 277, rotation: Math.PI / 2,
          style: {
            text: "{i|x} / a.u.", fontSize: 20, fontFamily: FONT, fill: "#000", align: "center", verticalAlign: "middle",
            rich: { i: { fontStyle: "italic", fontFamily: "Liberation Serif", fontSize: 20, fill: "#000" } },
          },
        },
      ],
    });
    return () => chart.dispose();
  }, []);
  return <div ref={ref} style={{ position: "fixed", left: 0, top: 0, width: 1381, height: 582, background: "#fff" }} />;
}
